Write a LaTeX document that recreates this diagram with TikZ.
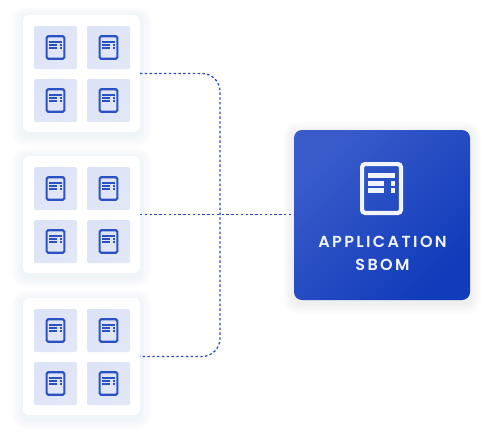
\documentclass[tikz,border=0pt]{standalone}
\usepackage{fontspec}
\setmainfont{Poppins}
\newfontfamily\labelfont{Poppins SemiBold}[LetterSpace=15]
\usetikzlibrary{calc}
\definecolor{iconblue}{HTML}{2A52C4}
\definecolor{linkblue}{HTML}{2448C0}
\definecolor{tiletl}{HTML}{DDE3F6}
\definecolor{tilebr}{HTML}{E2E7F8}
\definecolor{boxtl}{HTML}{3A5CCB}
\definecolor{boxbr}{HTML}{103BBA}
\definecolor{shadowblue}{HTML}{C4D0F4}
\definecolor{shadowgrey}{HTML}{B4B8C4}
\newcommand{\softshadow}[6]{% x0,y0,x1,y1,colour,opacity per layer
  \foreach \g in {1,2,...,8}{
    \fill[#5,opacity=#6,rounded corners=6pt+\g pt]
      ($(#1-\g*1.4,#2-\g*1.4+3)$) rectangle ($(#3+\g*1.4,#4+\g*1.4+3)$);
  }
}
\tikzset{
  x=1pt,y=-1pt,
  cardbox/.style={fill=white,rounded corners=6pt,minimum width=117pt,minimum height=117pt,inner sep=0pt,outer sep=0pt},
  tilebox/.style={rounded corners=1.5pt,minimum width=43pt,minimum height=43pt,inner sep=0pt,outer sep=0pt,shading=axis,left color=tiletl,right color=tilebr,shading angle=45},
  mainbox/.style={rounded corners=8pt,minimum width=176pt,minimum height=170pt,inner sep=0pt,outer sep=0pt,shading=axis,left color=boxtl,right color=boxbr,shading angle=45},
  linkline/.style={draw=linkblue,line width=1.25pt,dash pattern=on 2.4pt off 2.4pt},
  pics/docicon/.style n args={3}{code={
    \draw[#1,line width=#2,rounded corners=#3] (-19.4,-24.4) rectangle (19.4,24.4);
    \fill[#1] (-13.2,-15.2) rectangle (13.5,-10.5);
    \fill[#1] (-13.2,-7.5) rectangle (2.5,-2.8);
    \fill[#1] (9.5,-7.5) rectangle (13.5,-2.8);
    \fill[#1] (-13.2,-0.5) rectangle (2.5,4);
    \fill[#1] (9.5,-0.5) rectangle (13.5,4);
  }},
}
\newcommand{\doccard}[2]{% name, centre y
  \softshadow{23}{#2-58.5}{140}{#2+58.5}{shadowblue}{0.025}
  \node[cardbox] (#1) at (81.5,#2) {};
  \node[tilebox] (#1a) at (55.5,#2-26) {};
  \node[tilebox] (#1b) at (108.5,#2-26) {};
  \node[tilebox] (#1c) at (55.5,#2+27) {};
  \node[tilebox] (#1d) at (108.5,#2+27) {};
  \foreach \t in {a,b,c,d}{
    \pic[scale=0.46] at (#1\t) {docicon={iconblue}{2.1pt}{1.5pt}};
  }
}
\begin{document}
\begin{tikzpicture}
\useasboundingbox (0,0) rectangle (492,445);
\fill[white] (0,0) rectangle (492,445);
\softshadow{294}{130}{470}{300}{shadowgrey}{0.025}
\doccard{cardA}{73.5}
\doccard{cardB}{214.5}
\doccard{cardC}{356.5}
\node[mainbox] (sbom) at (382,215) {};
\pic at (381.5,188.5) {docicon={white!93!boxtl}{4.2pt}{3pt}};
\node[text=white!93!boxtl,font=\labelfont\fontsize{16}{23}\selectfont,align=center,inner sep=0pt] (sbomlabel) at (382.5,253.5) {APPLICATION\\SBOM};
\draw[linkline] (cardB.east) -- (cardB.east -| sbom.west);
\draw[linkline,rounded corners=18pt] (cardA.east) -- (cardA.east -| 220,0) -- (cardC.east -| 220,0) -- (cardC.east);
\end{tikzpicture}
\end{document}
